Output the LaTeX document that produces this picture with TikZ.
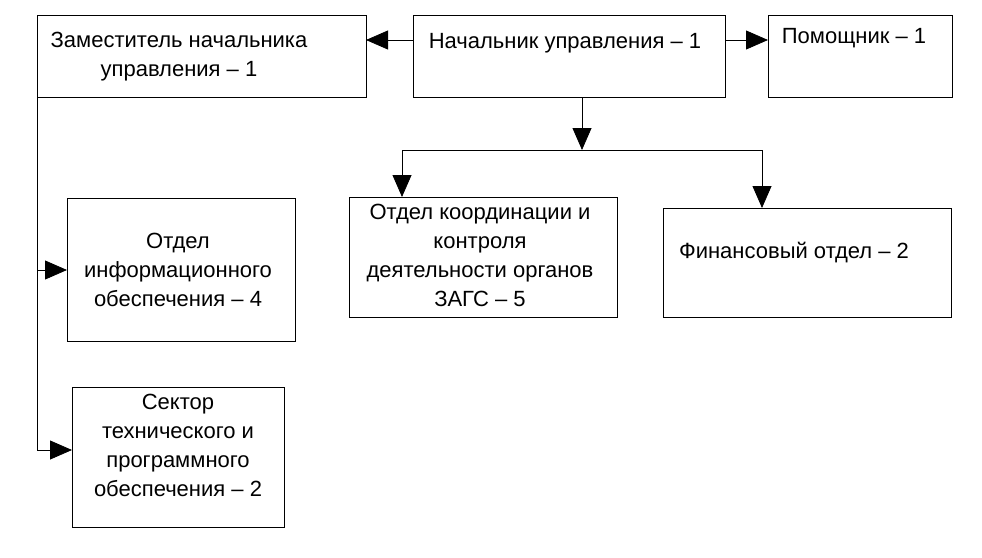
\documentclass[tikz,border=0pt]{standalone}
\usepackage{fontspec}
\setmainfont{Liberation Sans}
\usetikzlibrary{arrows.meta}
\begin{document}
\begin{tikzpicture}[x=1pt,y=-1pt,
  box/.style={draw,line width=0.8pt},
  txt/.style={align=center,font=\fontsize{22}{29}\selectfont,inner sep=0pt},
  arr/.style={line width=0.8pt,-{Triangle[length=22pt,width=19pt]}},
  ln/.style={line width=0.8pt}]
\useasboundingbox (0,0) rectangle (982,557);
\draw[box] (37,15) rectangle (366,97); \node[txt] (dep) at (179,57) {Заместитель начальника\\управления – 1};
\draw[box] (413,15) rectangle (725,97); \node[txt] (head) at (565,43) {Начальник управления – 1};
\draw[box] (768,15) rectangle (952,97); \node[txt] (asst) at (854,38) {Помощник – 1};
\draw[box] (349,197) rectangle (617,317); \node[txt] (koord) at (480,255) {Отдел координации и\\контроля\\деятельности органов\\ЗАГС – 5};
\draw[box] (663,208) rectangle (951,317); \node[txt] (fin) at (794,253) {Финансовый отдел – 2};
\draw[box] (67,198) rectangle (295,341); \node[txt] (info) at (178,270) {Отдел\\информационного\\обеспечения – 4};
\draw[box] (72,387) rectangle (284,527); \node[txt] (sec) at (178,445) {Сектор\\технического и\\программного\\обеспечения – 2};
\coordinate (hl) at (413,40); \coordinate (dr) at (366,40);
\coordinate (hr) at (725,40); \coordinate (al) at (768,40);
\draw[arr] (hl) -- (dr);
\draw[arr] (hr) -- (al);
\coordinate (hb) at (582,97); \coordinate (j) at (582,150);
\draw[arr] (hb) -- (j);
\draw[ln] (402,150) -- (762,150);
\draw[arr] (402,150) -- (402,197);
\draw[arr] (762,150) -- (762,208);
\draw[ln] (37,97) -- (37,450);
\draw[arr] (37,270) -- (67,270);
\draw[arr] (37,450) -- (72,450);
\end{tikzpicture}
\end{document}
